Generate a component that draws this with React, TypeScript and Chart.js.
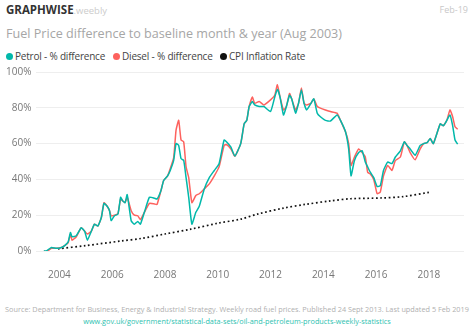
import React, { useEffect, useRef } from "react";
import { Chart, registerables } from "chart.js";

Chart.register(...registerables);

const FONT = "'Open Sans', 'Noto Sans', sans-serif";

// Year positions (decimal years) shared by petrol & diesel readings
const fuelYears = [
  2003.41, 2003.5, 2003.7, 2003.89, 2004.08, 2004.2, 2004.33, 2004.42, 2004.48, 2004.64,
  2004.83, 2004.96, 2005.06, 2005.21, 2005.33, 2005.46, 2005.59, 2005.69, 2005.81, 2005.9,
  2005.96, 2006.09, 2006.22, 2006.32, 2006.4, 2006.49, 2006.57, 2006.72, 2006.84, 2006.97,
  2007.07, 2007.22, 2007.41, 2007.6, 2007.7, 2007.85, 2007.95, 2008.1, 2008.2, 2008.33,
  2008.42, 2008.52, 2008.61, 2008.71, 2008.8, 2008.9, 2009.02, 2009.17, 2009.3, 2009.49,
  2009.68, 2009.87, 2010.05, 2010.24, 2010.33, 2010.5, 2010.65, 2010.87, 2011.0, 2011.1,
  2011.19, 2011.31, 2011.4, 2011.57, 2011.75, 2012.0, 2012.16, 2012.26, 2012.36, 2012.49,
  2012.6, 2012.72, 2012.8, 2012.95, 2013.06, 2013.17, 2013.27, 2013.37, 2013.53, 2013.64,
  2013.77, 2013.89, 2014.08, 2014.27, 2014.52, 2014.65, 2014.84, 2014.96, 2015.05, 2015.18,
  2015.34, 2015.47, 2015.59, 2015.68, 2015.78, 2015.91, 2016.04, 2016.16, 2016.28, 2016.44,
  2016.6, 2016.73, 2016.92, 2017.07, 2017.17, 2017.29, 2017.48, 2017.67, 2017.8, 2017.93,
  2018.05, 2018.17, 2018.43, 2018.55, 2018.68, 2018.8, 2018.9, 2018.99, 2019.09,
];

const petrolPct = [
  0, 0, 2, 1.5, 2, 3, 5, 10.3, 8, 8.5,
  13, 11, 6, 11, 15, 14, 18.7, 26.6, 25, 22.5,
  17, 19.7, 20.6, 30, 28, 27, 31.5, 16.9, 15, 16.5,
  15, 21.6, 30, 29.5, 29, 33.8, 39.4, 42, 45, 50.6,
  60, 59, 51.6, 50.6, 41, 30, 15, 21.6, 25, 34.7,
  41, 45, 48.8, 62, 61, 58, 53, 60, 71, 73,
  80.7, 83.5, 81.6, 80.7, 80.7, 77.9, 86, 90.4, 86, 76,
  80.7, 87, 85, 77, 82.5, 90, 82.5, 78.8, 82.5, 85,
  77, 75, 73, 72.6, 76, 73, 66.6, 57, 42, 50.6,
  55, 56, 49.7, 47, 44, 41, 36, 36.5, 45, 49.7,
  48.8, 52.5, 56, 61, 59, 57, 53.5, 59, 60, 60.5,
  62.8, 60, 71, 70, 73, 76, 70, 62, 59.7,
];

const dieselPct = [
  0, -0.5, 1.5, 1.5, 2, 3, 4.5, 9.4, 6, 8,
  13, 11, 9.5, 11, 15, 14, 18.7, 27, 25, 22.5,
  19.7, 20, 21, 29, 28, 27, 30, 22.5, 20, 19.7,
  17.5, 21.6, 26.6, 26.3, 26, 33.8, 39.4, 42, 46, 52,
  67.5, 73, 62, 61, 47, 41, 27, 31, 32, 34.7,
  37.5, 42, 47, 59, 59.5, 57, 53, 60, 71, 73,
  80.7, 86, 82.5, 83.5, 81.6, 84.4, 87, 92.9, 86, 78.8,
  80.7, 88, 85, 78.8, 82.5, 91, 82.5, 81.6, 82.5, 85,
  80.7, 79.8, 78.8, 77.9, 77, 73, 66.6, 60, 47.8, 52.5,
  57, 55, 52.5, 44, 43, 40, 32, 33, 42, 47.8,
  45, 50.6, 52.5, 61, 59, 55, 51, 57, 60, 60.5,
  62.8, 60, 71, 70, 73, 78.8, 75, 69.4, 68,
];

const cpiYears = [
  2003.95, 2005.0, 2006.34, 2007.1, 2008.0, 2008.98, 2010.0, 2010.87, 2011.5, 2012.5,
  2013.3, 2014.27, 2015.03, 2016.16, 2017.03, 2018.01,
];
const cpiPct = [
  1.2, 3, 5.6, 7, 9.5, 12.2, 15.5, 17.8, 20.6, 24,
  26, 28, 29.2, 29.6, 30.4, 32.8,
];

const yearTicks = [2004, 2006, 2008, 2010, 2012, 2014, 2016, 2018];
const seriesNames = ["Petrol - % difference", "Diesel - % difference", "CPI Inflation Rate"];
const seriesColors = ["#01B8AA", "#FD625E", "#111111"];
const legendX = [10, 117, 224];

export default function App() {
  const ref = useRef<HTMLCanvasElement>(null);

  useEffect(() => {
    if (!ref.current) return;
    const toPts = (xs: number[], ys: number[]) => xs.map((x, i) => ({ x, y: ys[i] }));
    const chart = new Chart(ref.current, {
      type: "line",
      data: {
        datasets: [
          {
            label: seriesNames[0],
            data: toPts(fuelYears, petrolPct),
            borderColor: seriesColors[0],
            backgroundColor: seriesColors[0],
            borderWidth: 1.5,
            pointRadius: 0,
            tension: 0.15,
          },
          {
            label: seriesNames[1],
            data: toPts(fuelYears, dieselPct),
            borderColor: seriesColors[1],
            backgroundColor: seriesColors[1],
            borderWidth: 1.5,
            pointRadius: 0,
            tension: 0.15,
          },
          {
            label: seriesNames[2],
            data: toPts(cpiYears, cpiPct),
            borderColor: seriesColors[2],
            backgroundColor: seriesColors[2],
            borderWidth: 1.7,
            borderDash: [1.7, 2.6],
            pointRadius: 0,
            tension: 0.3,
          },
        ],
      },
      options: {
        animation: false,
        responsive: false,
        maintainAspectRatio: false,
        layout: { padding: { left: 1, right: 10, top: 12, bottom: 9 } },
        plugins: {
          legend: { display: false },
          tooltip: { enabled: false },
        },
        scales: {
          x: {
            type: "linear",
            min: 2003.13,
            max: 2019.33,
            grid: { display: false, drawTicks: true, tickLength: 8 },
            border: { display: false },
            afterBuildTicks: (scale: any) => {
              scale.ticks = yearTicks.map((v) => ({ value: v }));
            },
            ticks: {
              color: "#777",
              padding: 10,
              font: { family: FONT, size: 10 },
              callback: (v: any) => String(v),
              maxRotation: 0,
            },
          },
          y: {
            min: 0,
            max: 100,
            grid: { color: "#eeeeee", drawTicks: false },
            border: { display: false },
            ticks: {
              stepSize: 20,
              color: "#777",
              padding: 5,
              font: { family: FONT, size: 10 },
              callback: (v: any) => v + "%",
            },
          },
        },
      },
    });
    return () => chart.destroy();
  }, []);

  return (
    <div style={{ position: "fixed", left: 0, top: 0, width: 474, height: 331, background: "#fff", fontFamily: FONT, overflow: "hidden" }}>
      <div style={{ position: "absolute", left: 6, top: 2, fontSize: 11.5, lineHeight: "16px", whiteSpace: "nowrap" }}>
        <span style={{ fontWeight: 700, color: "#333" }}>GRAPHWISE</span>
        <span style={{ color: "#ccc", fontSize: 9.5 }}>.weebly</span>
      </div>
      <div style={{ position: "absolute", right: 6, top: 2, fontSize: 9, lineHeight: "16px", color: "#c8c8c8" }}>Feb-19</div>
      <div style={{ position: "absolute", left: 6, top: 24, fontSize: 12.6, lineHeight: "20px", color: "#a6a6a6", whiteSpace: "nowrap" }}>
        Fuel Price difference to baseline month &amp; year (Aug 2003)
      </div>
      {seriesNames.map((name, i) => (
        <div key={name} style={{ position: "absolute", left: legendX[i] - 4, top: 48, height: 16, display: "flex", alignItems: "center", whiteSpace: "nowrap", fontSize: 10, letterSpacing: -0.2, color: "#444" }}>
          <span style={{ display: "inline-block", width: 7, height: 7, borderRadius: "50%", background: seriesColors[i], marginRight: 2 }} />
          <span>{name}</span>
        </div>
      ))}
      <canvas ref={ref} width={474} height={240} style={{ position: "absolute", left: 0, top: 60, width: 474, height: 240 }} />
      <div style={{ position: "absolute", left: 0, width: 474, top: 303, fontSize: 7.3, lineHeight: "12px", color: "#b0b0b0", textAlign: "center", whiteSpace: "nowrap" }}>
        Source: Department for Business, Energy &amp; Industrial Strategy. Weekly road fuel prices. Published 24 Sept 2013. Last updated 5 Feb 2019
      </div>
      <div style={{ position: "absolute", left: 0, width: 474, top: 315, fontSize: 7.3, lineHeight: "12px", color: "#2dbfb0", textAlign: "center", whiteSpace: "nowrap" }}>
        www.gov.uk/government/statistical-data-sets/oil-and-petroleum-products-weekly-statistics
      </div>
    </div>
  );
}
